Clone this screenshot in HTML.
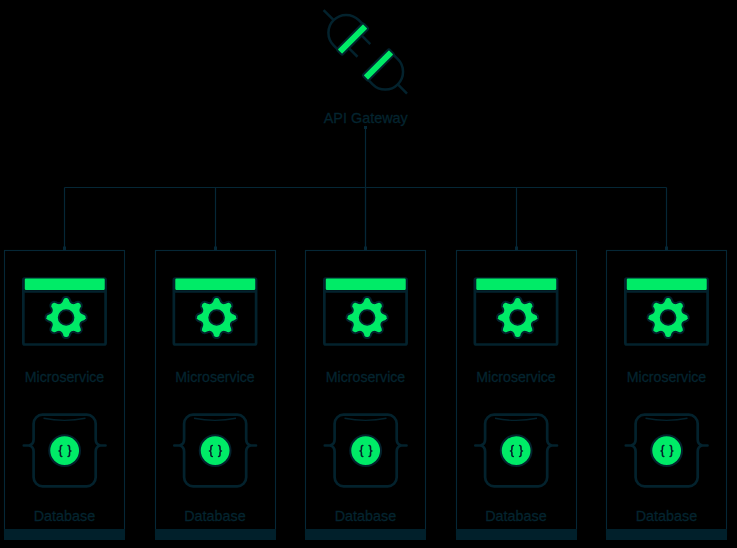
<!DOCTYPE html>
<html><head><meta charset="utf-8"><style>
html,body{margin:0;padding:0;background:#000;}
body{width:737px;height:548px;overflow:hidden;font-family:"Liberation Sans",sans-serif;}
svg{display:block}
</style></head><body>
<svg width="737" height="548" viewBox="0 0 737 548">
<rect width="737" height="548" fill="#000"/>
<line x1="64.5" y1="187.5" x2="666.5" y2="187.5" stroke="#052736" stroke-width="1.2"/>
<line x1="365.5" y1="127" x2="365.5" y2="250" stroke="#052736" stroke-width="1.2"/>
<rect x="364" y="126" width="3" height="3" fill="#052736"/>
<line x1="64.5" y1="187.5" x2="64.5" y2="250" stroke="#052736" stroke-width="1.2"/>
<rect x="63.0" y="246.5" width="3" height="4" fill="#052736"/>
<rect x="4.5" y="250.5" width="120" height="285" fill="none" stroke="#052736" stroke-width="1.1"/>
<rect x="4" y="529" width="121" height="11" fill="#01202b"/>
<rect x="23.35" y="278.5" width="82.25" height="66" rx="1.5" fill="none" stroke="#03222d" stroke-width="2.7"/>
<rect x="24.75" y="278.5" width="80" height="11.5" rx="1.2" fill="#00eb67"/>
<line x1="23.35" y1="291.5" x2="105.6" y2="291.5" stroke="#03222d" stroke-width="2.7"/>
<path d="M66.10 297.00 L66.42 297.01 L66.74 297.04 L67.06 297.09 L67.38 297.17 L67.69 297.28 L68.00 297.42 L68.30 297.60 L68.59 297.82 L68.86 298.10 L69.12 298.43 L69.36 298.82 L69.58 299.24 L69.79 299.69 L69.98 300.15 L70.16 300.59 L70.34 301.00 L70.51 301.36 L70.70 301.68 L70.88 301.95 L71.08 302.19 L71.28 302.38 L71.48 302.55 L71.70 302.69 L71.91 302.82 L72.14 302.92 L72.37 303.00 L72.61 303.07 L72.87 303.12 L73.13 303.15 L73.41 303.15 L73.71 303.12 L74.04 303.06 L74.39 302.97 L74.77 302.83 L75.19 302.67 L75.63 302.49 L76.08 302.30 L76.55 302.13 L77.01 301.98 L77.45 301.88 L77.86 301.83 L78.26 301.83 L78.62 301.87 L78.96 301.96 L79.27 302.08 L79.57 302.22 L79.85 302.39 L80.11 302.58 L80.36 302.78 L80.60 303.00 L80.82 303.24 L81.02 303.49 L81.21 303.75 L81.38 304.03 L81.52 304.33 L81.64 304.64 L81.73 304.98 L81.77 305.34 L81.77 305.74 L81.72 306.15 L81.62 306.59 L81.47 307.05 L81.30 307.52 L81.11 307.97 L80.93 308.41 L80.77 308.83 L80.63 309.21 L80.54 309.56 L80.48 309.89 L80.45 310.19 L80.45 310.47 L80.48 310.73 L80.53 310.99 L80.60 311.23 L80.68 311.46 L80.78 311.69 L80.91 311.90 L81.05 312.12 L81.22 312.32 L81.41 312.52 L81.65 312.72 L81.92 312.90 L82.24 313.09 L82.60 313.26 L83.01 313.44 L83.45 313.62 L83.91 313.81 L84.36 314.02 L84.78 314.24 L85.17 314.48 L85.50 314.74 L85.78 315.01 L86.00 315.30 L86.18 315.60 L86.32 315.91 L86.43 316.22 L86.51 316.54 L86.56 316.86 L86.59 317.18 L86.60 317.50 L86.59 317.82 L86.56 318.14 L86.51 318.46 L86.43 318.78 L86.32 319.09 L86.18 319.40 L86.00 319.70 L85.78 319.99 L85.50 320.26 L85.17 320.52 L84.78 320.76 L84.36 320.98 L83.91 321.19 L83.45 321.38 L83.01 321.56 L82.60 321.74 L82.24 321.91 L81.92 322.10 L81.65 322.28 L81.41 322.48 L81.22 322.68 L81.05 322.88 L80.91 323.10 L80.78 323.31 L80.68 323.54 L80.60 323.77 L80.53 324.01 L80.48 324.27 L80.45 324.53 L80.45 324.81 L80.48 325.11 L80.54 325.44 L80.63 325.79 L80.77 326.17 L80.93 326.59 L81.11 327.03 L81.30 327.48 L81.47 327.95 L81.62 328.41 L81.72 328.85 L81.77 329.26 L81.77 329.66 L81.73 330.02 L81.64 330.36 L81.52 330.67 L81.38 330.97 L81.21 331.25 L81.02 331.51 L80.82 331.76 L80.60 332.00 L80.36 332.22 L80.11 332.42 L79.85 332.61 L79.57 332.78 L79.27 332.92 L78.96 333.04 L78.62 333.13 L78.26 333.17 L77.86 333.17 L77.45 333.12 L77.01 333.02 L76.55 332.87 L76.08 332.70 L75.63 332.51 L75.19 332.33 L74.77 332.17 L74.39 332.03 L74.04 331.94 L73.71 331.88 L73.41 331.85 L73.13 331.85 L72.87 331.88 L72.61 331.93 L72.37 332.00 L72.14 332.08 L71.91 332.18 L71.70 332.31 L71.48 332.45 L71.28 332.62 L71.08 332.81 L70.88 333.05 L70.70 333.32 L70.51 333.64 L70.34 334.00 L70.16 334.41 L69.98 334.85 L69.79 335.31 L69.58 335.76 L69.36 336.18 L69.12 336.57 L68.86 336.90 L68.59 337.18 L68.30 337.40 L68.00 337.58 L67.69 337.72 L67.38 337.83 L67.06 337.91 L66.74 337.96 L66.42 337.99 L66.10 338.00 L65.78 337.99 L65.46 337.96 L65.14 337.91 L64.82 337.83 L64.51 337.72 L64.20 337.58 L63.90 337.40 L63.61 337.18 L63.34 336.90 L63.08 336.57 L62.84 336.18 L62.62 335.76 L62.41 335.31 L62.22 334.85 L62.04 334.41 L61.86 334.00 L61.69 333.64 L61.50 333.32 L61.32 333.05 L61.12 332.81 L60.92 332.62 L60.72 332.45 L60.50 332.31 L60.29 332.18 L60.06 332.08 L59.83 332.00 L59.59 331.93 L59.33 331.88 L59.07 331.85 L58.79 331.85 L58.49 331.88 L58.16 331.94 L57.81 332.03 L57.43 332.17 L57.01 332.33 L56.57 332.51 L56.12 332.70 L55.65 332.87 L55.19 333.02 L54.75 333.12 L54.34 333.17 L53.94 333.17 L53.58 333.13 L53.24 333.04 L52.93 332.92 L52.63 332.78 L52.35 332.61 L52.09 332.42 L51.84 332.22 L51.60 332.00 L51.38 331.76 L51.18 331.51 L50.99 331.25 L50.82 330.97 L50.68 330.67 L50.56 330.36 L50.47 330.02 L50.43 329.66 L50.43 329.26 L50.48 328.85 L50.58 328.41 L50.73 327.95 L50.90 327.48 L51.09 327.03 L51.27 326.59 L51.43 326.17 L51.57 325.79 L51.66 325.44 L51.72 325.11 L51.75 324.81 L51.75 324.53 L51.72 324.27 L51.67 324.01 L51.60 323.77 L51.52 323.54 L51.42 323.31 L51.29 323.10 L51.15 322.88 L50.98 322.68 L50.79 322.48 L50.55 322.28 L50.28 322.10 L49.96 321.91 L49.60 321.74 L49.19 321.56 L48.75 321.38 L48.29 321.19 L47.84 320.98 L47.42 320.76 L47.03 320.52 L46.70 320.26 L46.42 319.99 L46.20 319.70 L46.02 319.40 L45.88 319.09 L45.77 318.78 L45.69 318.46 L45.64 318.14 L45.61 317.82 L45.60 317.50 L45.61 317.18 L45.64 316.86 L45.69 316.54 L45.77 316.22 L45.88 315.91 L46.02 315.60 L46.20 315.30 L46.42 315.01 L46.70 314.74 L47.03 314.48 L47.42 314.24 L47.84 314.02 L48.29 313.81 L48.75 313.62 L49.19 313.44 L49.60 313.26 L49.96 313.09 L50.28 312.90 L50.55 312.72 L50.79 312.52 L50.98 312.32 L51.15 312.12 L51.29 311.90 L51.42 311.69 L51.52 311.46 L51.60 311.23 L51.67 310.99 L51.72 310.73 L51.75 310.47 L51.75 310.19 L51.72 309.89 L51.66 309.56 L51.57 309.21 L51.43 308.83 L51.27 308.41 L51.09 307.97 L50.90 307.52 L50.73 307.05 L50.58 306.59 L50.48 306.15 L50.43 305.74 L50.43 305.34 L50.47 304.98 L50.56 304.64 L50.68 304.33 L50.82 304.03 L50.99 303.75 L51.18 303.49 L51.38 303.24 L51.60 303.00 L51.84 302.78 L52.09 302.58 L52.35 302.39 L52.63 302.22 L52.93 302.08 L53.24 301.96 L53.58 301.87 L53.94 301.83 L54.34 301.83 L54.75 301.88 L55.19 301.98 L55.65 302.13 L56.12 302.30 L56.57 302.49 L57.01 302.67 L57.43 302.83 L57.81 302.97 L58.16 303.06 L58.49 303.12 L58.79 303.15 L59.07 303.15 L59.33 303.12 L59.59 303.07 L59.83 303.00 L60.06 302.92 L60.29 302.82 L60.50 302.69 L60.72 302.55 L60.92 302.38 L61.12 302.19 L61.32 301.95 L61.50 301.68 L61.69 301.36 L61.86 301.00 L62.04 300.59 L62.22 300.15 L62.41 299.69 L62.62 299.24 L62.84 298.82 L63.08 298.43 L63.34 298.10 L63.61 297.82 L63.90 297.60 L64.20 297.42 L64.51 297.28 L64.82 297.17 L65.14 297.09 L65.46 297.04 L65.78 297.01Z" fill="#00eb67" stroke="#03222d" stroke-width="2"/>
<circle cx="66.1" cy="317.5" r="7.4" fill="#000" stroke="#03222d" stroke-width="1.8"/>
<text x="64.5" y="382" text-anchor="middle" font-family="Liberation Sans" font-size="14.5" fill="#04242f" stroke="#04242f" stroke-width="0.3" textLength="79.5" lengthAdjust="spacingAndGlyphs">Microservice</text>
<path d="M42.6 414.7 L86.7 414.7 A9 9 0 0 1 95.7 423.7 L95.7 439.5 Q95.7 444.5 100.3 445.5 L105.5 445.5 L100.3 445.5 Q95.7 446.5 95.7 451.5 L95.7 477.3 A9 9 0 0 1 86.7 486.3 L42.6 486.3 A9 9 0 0 1 33.6 477.3 L33.6 451.5 Q33.6 446.5 29.0 445.5 L23.8 445.5 L29.0 445.5 Q33.6 444.5 33.6 439.5 L33.6 423.7 A9 9 0 0 1 42.6 414.7 Z" fill="none" stroke="#03222d" stroke-width="2.7" stroke-linejoin="round"/>
<path d="M43.5 418.3 Q64.5 422.5 85.5 418.3" fill="none" stroke="#03222d" stroke-width="1.4"/>
<circle cx="64.65" cy="450.6" r="15.4" fill="#00eb67" stroke="#03222d" stroke-width="2"/>
<path d="M61.8 445.5 Q60.4 445.5 60.4 447.5 L60.4 449.3 Q60.4 451 59.0 451 Q60.4 451 60.4 452.7 L60.4 454.5 Q60.4 456.5 61.8 456.5 M68.1 445.5 Q69.5 445.5 69.5 447.5 L69.5 449.3 Q69.5 451 70.9 451 Q69.5 451 69.5 452.7 L69.5 454.5 Q69.5 456.5 68.1 456.5" fill="none" stroke="#03222d" stroke-width="1.6" stroke-linecap="round" stroke-linejoin="round"/>
<text x="64.5" y="521" text-anchor="middle" font-family="Liberation Sans" font-size="14.5" fill="#04242f" stroke="#04242f" stroke-width="0.3" textLength="61.5" lengthAdjust="spacingAndGlyphs">Database</text>
<line x1="215.5" y1="187.5" x2="215.5" y2="250" stroke="#052736" stroke-width="1.2"/>
<rect x="214.0" y="246.5" width="3" height="4" fill="#052736"/>
<rect x="155.5" y="250.5" width="120" height="285" fill="none" stroke="#052736" stroke-width="1.1"/>
<rect x="155" y="529" width="121" height="11" fill="#01202b"/>
<rect x="173.85" y="278.5" width="82.25" height="66" rx="1.5" fill="none" stroke="#03222d" stroke-width="2.7"/>
<rect x="175.25" y="278.5" width="80" height="11.5" rx="1.2" fill="#00eb67"/>
<line x1="173.85" y1="291.5" x2="256.1" y2="291.5" stroke="#03222d" stroke-width="2.7"/>
<path d="M216.60 297.00 L216.92 297.01 L217.24 297.04 L217.56 297.09 L217.88 297.17 L218.19 297.28 L218.50 297.42 L218.80 297.60 L219.09 297.82 L219.36 298.10 L219.62 298.43 L219.86 298.82 L220.08 299.24 L220.29 299.69 L220.48 300.15 L220.66 300.59 L220.84 301.00 L221.01 301.36 L221.20 301.68 L221.38 301.95 L221.58 302.19 L221.78 302.38 L221.98 302.55 L222.20 302.69 L222.41 302.82 L222.64 302.92 L222.87 303.00 L223.11 303.07 L223.37 303.12 L223.63 303.15 L223.91 303.15 L224.21 303.12 L224.54 303.06 L224.89 302.97 L225.27 302.83 L225.69 302.67 L226.13 302.49 L226.58 302.30 L227.05 302.13 L227.51 301.98 L227.95 301.88 L228.36 301.83 L228.76 301.83 L229.12 301.87 L229.46 301.96 L229.77 302.08 L230.07 302.22 L230.35 302.39 L230.61 302.58 L230.86 302.78 L231.10 303.00 L231.32 303.24 L231.52 303.49 L231.71 303.75 L231.88 304.03 L232.02 304.33 L232.14 304.64 L232.23 304.98 L232.27 305.34 L232.27 305.74 L232.22 306.15 L232.12 306.59 L231.97 307.05 L231.80 307.52 L231.61 307.97 L231.43 308.41 L231.27 308.83 L231.13 309.21 L231.04 309.56 L230.98 309.89 L230.95 310.19 L230.95 310.47 L230.98 310.73 L231.03 310.99 L231.10 311.23 L231.18 311.46 L231.28 311.69 L231.41 311.90 L231.55 312.12 L231.72 312.32 L231.91 312.52 L232.15 312.72 L232.42 312.90 L232.74 313.09 L233.10 313.26 L233.51 313.44 L233.95 313.62 L234.41 313.81 L234.86 314.02 L235.28 314.24 L235.67 314.48 L236.00 314.74 L236.28 315.01 L236.50 315.30 L236.68 315.60 L236.82 315.91 L236.93 316.22 L237.01 316.54 L237.06 316.86 L237.09 317.18 L237.10 317.50 L237.09 317.82 L237.06 318.14 L237.01 318.46 L236.93 318.78 L236.82 319.09 L236.68 319.40 L236.50 319.70 L236.28 319.99 L236.00 320.26 L235.67 320.52 L235.28 320.76 L234.86 320.98 L234.41 321.19 L233.95 321.38 L233.51 321.56 L233.10 321.74 L232.74 321.91 L232.42 322.10 L232.15 322.28 L231.91 322.48 L231.72 322.68 L231.55 322.88 L231.41 323.10 L231.28 323.31 L231.18 323.54 L231.10 323.77 L231.03 324.01 L230.98 324.27 L230.95 324.53 L230.95 324.81 L230.98 325.11 L231.04 325.44 L231.13 325.79 L231.27 326.17 L231.43 326.59 L231.61 327.03 L231.80 327.48 L231.97 327.95 L232.12 328.41 L232.22 328.85 L232.27 329.26 L232.27 329.66 L232.23 330.02 L232.14 330.36 L232.02 330.67 L231.88 330.97 L231.71 331.25 L231.52 331.51 L231.32 331.76 L231.10 332.00 L230.86 332.22 L230.61 332.42 L230.35 332.61 L230.07 332.78 L229.77 332.92 L229.46 333.04 L229.12 333.13 L228.76 333.17 L228.36 333.17 L227.95 333.12 L227.51 333.02 L227.05 332.87 L226.58 332.70 L226.13 332.51 L225.69 332.33 L225.27 332.17 L224.89 332.03 L224.54 331.94 L224.21 331.88 L223.91 331.85 L223.63 331.85 L223.37 331.88 L223.11 331.93 L222.87 332.00 L222.64 332.08 L222.41 332.18 L222.20 332.31 L221.98 332.45 L221.78 332.62 L221.58 332.81 L221.38 333.05 L221.20 333.32 L221.01 333.64 L220.84 334.00 L220.66 334.41 L220.48 334.85 L220.29 335.31 L220.08 335.76 L219.86 336.18 L219.62 336.57 L219.36 336.90 L219.09 337.18 L218.80 337.40 L218.50 337.58 L218.19 337.72 L217.88 337.83 L217.56 337.91 L217.24 337.96 L216.92 337.99 L216.60 338.00 L216.28 337.99 L215.96 337.96 L215.64 337.91 L215.32 337.83 L215.01 337.72 L214.70 337.58 L214.40 337.40 L214.11 337.18 L213.84 336.90 L213.58 336.57 L213.34 336.18 L213.12 335.76 L212.91 335.31 L212.72 334.85 L212.54 334.41 L212.36 334.00 L212.19 333.64 L212.00 333.32 L211.82 333.05 L211.62 332.81 L211.42 332.62 L211.22 332.45 L211.00 332.31 L210.79 332.18 L210.56 332.08 L210.33 332.00 L210.09 331.93 L209.83 331.88 L209.57 331.85 L209.29 331.85 L208.99 331.88 L208.66 331.94 L208.31 332.03 L207.93 332.17 L207.51 332.33 L207.07 332.51 L206.62 332.70 L206.15 332.87 L205.69 333.02 L205.25 333.12 L204.84 333.17 L204.44 333.17 L204.08 333.13 L203.74 333.04 L203.43 332.92 L203.13 332.78 L202.85 332.61 L202.59 332.42 L202.34 332.22 L202.10 332.00 L201.88 331.76 L201.68 331.51 L201.49 331.25 L201.32 330.97 L201.18 330.67 L201.06 330.36 L200.97 330.02 L200.93 329.66 L200.93 329.26 L200.98 328.85 L201.08 328.41 L201.23 327.95 L201.40 327.48 L201.59 327.03 L201.77 326.59 L201.93 326.17 L202.07 325.79 L202.16 325.44 L202.22 325.11 L202.25 324.81 L202.25 324.53 L202.22 324.27 L202.17 324.01 L202.10 323.77 L202.02 323.54 L201.92 323.31 L201.79 323.10 L201.65 322.88 L201.48 322.68 L201.29 322.48 L201.05 322.28 L200.78 322.10 L200.46 321.91 L200.10 321.74 L199.69 321.56 L199.25 321.38 L198.79 321.19 L198.34 320.98 L197.92 320.76 L197.53 320.52 L197.20 320.26 L196.92 319.99 L196.70 319.70 L196.52 319.40 L196.38 319.09 L196.27 318.78 L196.19 318.46 L196.14 318.14 L196.11 317.82 L196.10 317.50 L196.11 317.18 L196.14 316.86 L196.19 316.54 L196.27 316.22 L196.38 315.91 L196.52 315.60 L196.70 315.30 L196.92 315.01 L197.20 314.74 L197.53 314.48 L197.92 314.24 L198.34 314.02 L198.79 313.81 L199.25 313.62 L199.69 313.44 L200.10 313.26 L200.46 313.09 L200.78 312.90 L201.05 312.72 L201.29 312.52 L201.48 312.32 L201.65 312.12 L201.79 311.90 L201.92 311.69 L202.02 311.46 L202.10 311.23 L202.17 310.99 L202.22 310.73 L202.25 310.47 L202.25 310.19 L202.22 309.89 L202.16 309.56 L202.07 309.21 L201.93 308.83 L201.77 308.41 L201.59 307.97 L201.40 307.52 L201.23 307.05 L201.08 306.59 L200.98 306.15 L200.93 305.74 L200.93 305.34 L200.97 304.98 L201.06 304.64 L201.18 304.33 L201.32 304.03 L201.49 303.75 L201.68 303.49 L201.88 303.24 L202.10 303.00 L202.34 302.78 L202.59 302.58 L202.85 302.39 L203.13 302.22 L203.43 302.08 L203.74 301.96 L204.08 301.87 L204.44 301.83 L204.84 301.83 L205.25 301.88 L205.69 301.98 L206.15 302.13 L206.62 302.30 L207.07 302.49 L207.51 302.67 L207.93 302.83 L208.31 302.97 L208.66 303.06 L208.99 303.12 L209.29 303.15 L209.57 303.15 L209.83 303.12 L210.09 303.07 L210.33 303.00 L210.56 302.92 L210.79 302.82 L211.00 302.69 L211.22 302.55 L211.42 302.38 L211.62 302.19 L211.82 301.95 L212.00 301.68 L212.19 301.36 L212.36 301.00 L212.54 300.59 L212.72 300.15 L212.91 299.69 L213.12 299.24 L213.34 298.82 L213.58 298.43 L213.84 298.10 L214.11 297.82 L214.40 297.60 L214.70 297.42 L215.01 297.28 L215.32 297.17 L215.64 297.09 L215.96 297.04 L216.28 297.01Z" fill="#00eb67" stroke="#03222d" stroke-width="2"/>
<circle cx="216.6" cy="317.5" r="7.4" fill="#000" stroke="#03222d" stroke-width="1.8"/>
<text x="215.0" y="382" text-anchor="middle" font-family="Liberation Sans" font-size="14.5" fill="#04242f" stroke="#04242f" stroke-width="0.3" textLength="79.5" lengthAdjust="spacingAndGlyphs">Microservice</text>
<path d="M193.1 414.7 L237.2 414.7 A9 9 0 0 1 246.2 423.7 L246.2 439.5 Q246.2 444.5 250.79999999999998 445.5 L256.0 445.5 L250.79999999999998 445.5 Q246.2 446.5 246.2 451.5 L246.2 477.3 A9 9 0 0 1 237.2 486.3 L193.1 486.3 A9 9 0 0 1 184.1 477.3 L184.1 451.5 Q184.1 446.5 179.5 445.5 L174.29999999999998 445.5 L179.5 445.5 Q184.1 444.5 184.1 439.5 L184.1 423.7 A9 9 0 0 1 193.1 414.7 Z" fill="none" stroke="#03222d" stroke-width="2.7" stroke-linejoin="round"/>
<path d="M194.0 418.3 Q215.0 422.5 236.0 418.3" fill="none" stroke="#03222d" stroke-width="1.4"/>
<circle cx="215.15" cy="450.6" r="15.4" fill="#00eb67" stroke="#03222d" stroke-width="2"/>
<path d="M212.3 445.5 Q210.9 445.5 210.9 447.5 L210.9 449.3 Q210.9 451 209.5 451 Q210.9 451 210.9 452.7 L210.9 454.5 Q210.9 456.5 212.3 456.5 M218.6 445.5 Q220.0 445.5 220.0 447.5 L220.0 449.3 Q220.0 451 221.4 451 Q220.0 451 220.0 452.7 L220.0 454.5 Q220.0 456.5 218.6 456.5" fill="none" stroke="#03222d" stroke-width="1.6" stroke-linecap="round" stroke-linejoin="round"/>
<text x="215.0" y="521" text-anchor="middle" font-family="Liberation Sans" font-size="14.5" fill="#04242f" stroke="#04242f" stroke-width="0.3" textLength="61.5" lengthAdjust="spacingAndGlyphs">Database</text>
<line x1="365.5" y1="187.5" x2="365.5" y2="250" stroke="#052736" stroke-width="1.2"/>
<rect x="364.0" y="246.5" width="3" height="4" fill="#052736"/>
<rect x="305.5" y="250.5" width="120" height="285" fill="none" stroke="#052736" stroke-width="1.1"/>
<rect x="305" y="529" width="121" height="11" fill="#01202b"/>
<rect x="324.35" y="278.5" width="82.25" height="66" rx="1.5" fill="none" stroke="#03222d" stroke-width="2.7"/>
<rect x="325.75" y="278.5" width="80" height="11.5" rx="1.2" fill="#00eb67"/>
<line x1="324.35" y1="291.5" x2="406.6" y2="291.5" stroke="#03222d" stroke-width="2.7"/>
<path d="M367.10 297.00 L367.42 297.01 L367.74 297.04 L368.06 297.09 L368.38 297.17 L368.69 297.28 L369.00 297.42 L369.30 297.60 L369.59 297.82 L369.86 298.10 L370.12 298.43 L370.36 298.82 L370.58 299.24 L370.79 299.69 L370.98 300.15 L371.16 300.59 L371.34 301.00 L371.51 301.36 L371.70 301.68 L371.88 301.95 L372.08 302.19 L372.28 302.38 L372.48 302.55 L372.70 302.69 L372.91 302.82 L373.14 302.92 L373.37 303.00 L373.61 303.07 L373.87 303.12 L374.13 303.15 L374.41 303.15 L374.71 303.12 L375.04 303.06 L375.39 302.97 L375.77 302.83 L376.19 302.67 L376.63 302.49 L377.08 302.30 L377.55 302.13 L378.01 301.98 L378.45 301.88 L378.86 301.83 L379.26 301.83 L379.62 301.87 L379.96 301.96 L380.27 302.08 L380.57 302.22 L380.85 302.39 L381.11 302.58 L381.36 302.78 L381.60 303.00 L381.82 303.24 L382.02 303.49 L382.21 303.75 L382.38 304.03 L382.52 304.33 L382.64 304.64 L382.73 304.98 L382.77 305.34 L382.77 305.74 L382.72 306.15 L382.62 306.59 L382.47 307.05 L382.30 307.52 L382.11 307.97 L381.93 308.41 L381.77 308.83 L381.63 309.21 L381.54 309.56 L381.48 309.89 L381.45 310.19 L381.45 310.47 L381.48 310.73 L381.53 310.99 L381.60 311.23 L381.68 311.46 L381.78 311.69 L381.91 311.90 L382.05 312.12 L382.22 312.32 L382.41 312.52 L382.65 312.72 L382.92 312.90 L383.24 313.09 L383.60 313.26 L384.01 313.44 L384.45 313.62 L384.91 313.81 L385.36 314.02 L385.78 314.24 L386.17 314.48 L386.50 314.74 L386.78 315.01 L387.00 315.30 L387.18 315.60 L387.32 315.91 L387.43 316.22 L387.51 316.54 L387.56 316.86 L387.59 317.18 L387.60 317.50 L387.59 317.82 L387.56 318.14 L387.51 318.46 L387.43 318.78 L387.32 319.09 L387.18 319.40 L387.00 319.70 L386.78 319.99 L386.50 320.26 L386.17 320.52 L385.78 320.76 L385.36 320.98 L384.91 321.19 L384.45 321.38 L384.01 321.56 L383.60 321.74 L383.24 321.91 L382.92 322.10 L382.65 322.28 L382.41 322.48 L382.22 322.68 L382.05 322.88 L381.91 323.10 L381.78 323.31 L381.68 323.54 L381.60 323.77 L381.53 324.01 L381.48 324.27 L381.45 324.53 L381.45 324.81 L381.48 325.11 L381.54 325.44 L381.63 325.79 L381.77 326.17 L381.93 326.59 L382.11 327.03 L382.30 327.48 L382.47 327.95 L382.62 328.41 L382.72 328.85 L382.77 329.26 L382.77 329.66 L382.73 330.02 L382.64 330.36 L382.52 330.67 L382.38 330.97 L382.21 331.25 L382.02 331.51 L381.82 331.76 L381.60 332.00 L381.36 332.22 L381.11 332.42 L380.85 332.61 L380.57 332.78 L380.27 332.92 L379.96 333.04 L379.62 333.13 L379.26 333.17 L378.86 333.17 L378.45 333.12 L378.01 333.02 L377.55 332.87 L377.08 332.70 L376.63 332.51 L376.19 332.33 L375.77 332.17 L375.39 332.03 L375.04 331.94 L374.71 331.88 L374.41 331.85 L374.13 331.85 L373.87 331.88 L373.61 331.93 L373.37 332.00 L373.14 332.08 L372.91 332.18 L372.70 332.31 L372.48 332.45 L372.28 332.62 L372.08 332.81 L371.88 333.05 L371.70 333.32 L371.51 333.64 L371.34 334.00 L371.16 334.41 L370.98 334.85 L370.79 335.31 L370.58 335.76 L370.36 336.18 L370.12 336.57 L369.86 336.90 L369.59 337.18 L369.30 337.40 L369.00 337.58 L368.69 337.72 L368.38 337.83 L368.06 337.91 L367.74 337.96 L367.42 337.99 L367.10 338.00 L366.78 337.99 L366.46 337.96 L366.14 337.91 L365.82 337.83 L365.51 337.72 L365.20 337.58 L364.90 337.40 L364.61 337.18 L364.34 336.90 L364.08 336.57 L363.84 336.18 L363.62 335.76 L363.41 335.31 L363.22 334.85 L363.04 334.41 L362.86 334.00 L362.69 333.64 L362.50 333.32 L362.32 333.05 L362.12 332.81 L361.92 332.62 L361.72 332.45 L361.50 332.31 L361.29 332.18 L361.06 332.08 L360.83 332.00 L360.59 331.93 L360.33 331.88 L360.07 331.85 L359.79 331.85 L359.49 331.88 L359.16 331.94 L358.81 332.03 L358.43 332.17 L358.01 332.33 L357.57 332.51 L357.12 332.70 L356.65 332.87 L356.19 333.02 L355.75 333.12 L355.34 333.17 L354.94 333.17 L354.58 333.13 L354.24 333.04 L353.93 332.92 L353.63 332.78 L353.35 332.61 L353.09 332.42 L352.84 332.22 L352.60 332.00 L352.38 331.76 L352.18 331.51 L351.99 331.25 L351.82 330.97 L351.68 330.67 L351.56 330.36 L351.47 330.02 L351.43 329.66 L351.43 329.26 L351.48 328.85 L351.58 328.41 L351.73 327.95 L351.90 327.48 L352.09 327.03 L352.27 326.59 L352.43 326.17 L352.57 325.79 L352.66 325.44 L352.72 325.11 L352.75 324.81 L352.75 324.53 L352.72 324.27 L352.67 324.01 L352.60 323.77 L352.52 323.54 L352.42 323.31 L352.29 323.10 L352.15 322.88 L351.98 322.68 L351.79 322.48 L351.55 322.28 L351.28 322.10 L350.96 321.91 L350.60 321.74 L350.19 321.56 L349.75 321.38 L349.29 321.19 L348.84 320.98 L348.42 320.76 L348.03 320.52 L347.70 320.26 L347.42 319.99 L347.20 319.70 L347.02 319.40 L346.88 319.09 L346.77 318.78 L346.69 318.46 L346.64 318.14 L346.61 317.82 L346.60 317.50 L346.61 317.18 L346.64 316.86 L346.69 316.54 L346.77 316.22 L346.88 315.91 L347.02 315.60 L347.20 315.30 L347.42 315.01 L347.70 314.74 L348.03 314.48 L348.42 314.24 L348.84 314.02 L349.29 313.81 L349.75 313.62 L350.19 313.44 L350.60 313.26 L350.96 313.09 L351.28 312.90 L351.55 312.72 L351.79 312.52 L351.98 312.32 L352.15 312.12 L352.29 311.90 L352.42 311.69 L352.52 311.46 L352.60 311.23 L352.67 310.99 L352.72 310.73 L352.75 310.47 L352.75 310.19 L352.72 309.89 L352.66 309.56 L352.57 309.21 L352.43 308.83 L352.27 308.41 L352.09 307.97 L351.90 307.52 L351.73 307.05 L351.58 306.59 L351.48 306.15 L351.43 305.74 L351.43 305.34 L351.47 304.98 L351.56 304.64 L351.68 304.33 L351.82 304.03 L351.99 303.75 L352.18 303.49 L352.38 303.24 L352.60 303.00 L352.84 302.78 L353.09 302.58 L353.35 302.39 L353.63 302.22 L353.93 302.08 L354.24 301.96 L354.58 301.87 L354.94 301.83 L355.34 301.83 L355.75 301.88 L356.19 301.98 L356.65 302.13 L357.12 302.30 L357.57 302.49 L358.01 302.67 L358.43 302.83 L358.81 302.97 L359.16 303.06 L359.49 303.12 L359.79 303.15 L360.07 303.15 L360.33 303.12 L360.59 303.07 L360.83 303.00 L361.06 302.92 L361.29 302.82 L361.50 302.69 L361.72 302.55 L361.92 302.38 L362.12 302.19 L362.32 301.95 L362.50 301.68 L362.69 301.36 L362.86 301.00 L363.04 300.59 L363.22 300.15 L363.41 299.69 L363.62 299.24 L363.84 298.82 L364.08 298.43 L364.34 298.10 L364.61 297.82 L364.90 297.60 L365.20 297.42 L365.51 297.28 L365.82 297.17 L366.14 297.09 L366.46 297.04 L366.78 297.01Z" fill="#00eb67" stroke="#03222d" stroke-width="2"/>
<circle cx="367.1" cy="317.5" r="7.4" fill="#000" stroke="#03222d" stroke-width="1.8"/>
<text x="365.5" y="382" text-anchor="middle" font-family="Liberation Sans" font-size="14.5" fill="#04242f" stroke="#04242f" stroke-width="0.3" textLength="79.5" lengthAdjust="spacingAndGlyphs">Microservice</text>
<path d="M343.6 414.7 L387.7 414.7 A9 9 0 0 1 396.7 423.7 L396.7 439.5 Q396.7 444.5 401.3 445.5 L406.5 445.5 L401.3 445.5 Q396.7 446.5 396.7 451.5 L396.7 477.3 A9 9 0 0 1 387.7 486.3 L343.6 486.3 A9 9 0 0 1 334.6 477.3 L334.6 451.5 Q334.6 446.5 330.0 445.5 L324.8 445.5 L330.0 445.5 Q334.6 444.5 334.6 439.5 L334.6 423.7 A9 9 0 0 1 343.6 414.7 Z" fill="none" stroke="#03222d" stroke-width="2.7" stroke-linejoin="round"/>
<path d="M344.5 418.3 Q365.5 422.5 386.5 418.3" fill="none" stroke="#03222d" stroke-width="1.4"/>
<circle cx="365.65" cy="450.6" r="15.4" fill="#00eb67" stroke="#03222d" stroke-width="2"/>
<path d="M362.8 445.5 Q361.4 445.5 361.4 447.5 L361.4 449.3 Q361.4 451 360.0 451 Q361.4 451 361.4 452.7 L361.4 454.5 Q361.4 456.5 362.8 456.5 M369.1 445.5 Q370.5 445.5 370.5 447.5 L370.5 449.3 Q370.5 451 371.9 451 Q370.5 451 370.5 452.7 L370.5 454.5 Q370.5 456.5 369.1 456.5" fill="none" stroke="#03222d" stroke-width="1.6" stroke-linecap="round" stroke-linejoin="round"/>
<text x="365.5" y="521" text-anchor="middle" font-family="Liberation Sans" font-size="14.5" fill="#04242f" stroke="#04242f" stroke-width="0.3" textLength="61.5" lengthAdjust="spacingAndGlyphs">Database</text>
<line x1="516.5" y1="187.5" x2="516.5" y2="250" stroke="#052736" stroke-width="1.2"/>
<rect x="515.0" y="246.5" width="3" height="4" fill="#052736"/>
<rect x="456.5" y="250.5" width="120" height="285" fill="none" stroke="#052736" stroke-width="1.1"/>
<rect x="456" y="529" width="121" height="11" fill="#01202b"/>
<rect x="474.85" y="278.5" width="82.25" height="66" rx="1.5" fill="none" stroke="#03222d" stroke-width="2.7"/>
<rect x="476.25" y="278.5" width="80" height="11.5" rx="1.2" fill="#00eb67"/>
<line x1="474.85" y1="291.5" x2="557.1" y2="291.5" stroke="#03222d" stroke-width="2.7"/>
<path d="M517.60 297.00 L517.92 297.01 L518.24 297.04 L518.56 297.09 L518.88 297.17 L519.19 297.28 L519.50 297.42 L519.80 297.60 L520.09 297.82 L520.36 298.10 L520.62 298.43 L520.86 298.82 L521.08 299.24 L521.29 299.69 L521.48 300.15 L521.66 300.59 L521.84 301.00 L522.01 301.36 L522.20 301.68 L522.38 301.95 L522.58 302.19 L522.78 302.38 L522.98 302.55 L523.20 302.69 L523.41 302.82 L523.64 302.92 L523.87 303.00 L524.11 303.07 L524.37 303.12 L524.63 303.15 L524.91 303.15 L525.21 303.12 L525.54 303.06 L525.89 302.97 L526.27 302.83 L526.69 302.67 L527.13 302.49 L527.58 302.30 L528.05 302.13 L528.51 301.98 L528.95 301.88 L529.36 301.83 L529.76 301.83 L530.12 301.87 L530.46 301.96 L530.77 302.08 L531.07 302.22 L531.35 302.39 L531.61 302.58 L531.86 302.78 L532.10 303.00 L532.32 303.24 L532.52 303.49 L532.71 303.75 L532.88 304.03 L533.02 304.33 L533.14 304.64 L533.23 304.98 L533.27 305.34 L533.27 305.74 L533.22 306.15 L533.12 306.59 L532.97 307.05 L532.80 307.52 L532.61 307.97 L532.43 308.41 L532.27 308.83 L532.13 309.21 L532.04 309.56 L531.98 309.89 L531.95 310.19 L531.95 310.47 L531.98 310.73 L532.03 310.99 L532.10 311.23 L532.18 311.46 L532.28 311.69 L532.41 311.90 L532.55 312.12 L532.72 312.32 L532.91 312.52 L533.15 312.72 L533.42 312.90 L533.74 313.09 L534.10 313.26 L534.51 313.44 L534.95 313.62 L535.41 313.81 L535.86 314.02 L536.28 314.24 L536.67 314.48 L537.00 314.74 L537.28 315.01 L537.50 315.30 L537.68 315.60 L537.82 315.91 L537.93 316.22 L538.01 316.54 L538.06 316.86 L538.09 317.18 L538.10 317.50 L538.09 317.82 L538.06 318.14 L538.01 318.46 L537.93 318.78 L537.82 319.09 L537.68 319.40 L537.50 319.70 L537.28 319.99 L537.00 320.26 L536.67 320.52 L536.28 320.76 L535.86 320.98 L535.41 321.19 L534.95 321.38 L534.51 321.56 L534.10 321.74 L533.74 321.91 L533.42 322.10 L533.15 322.28 L532.91 322.48 L532.72 322.68 L532.55 322.88 L532.41 323.10 L532.28 323.31 L532.18 323.54 L532.10 323.77 L532.03 324.01 L531.98 324.27 L531.95 324.53 L531.95 324.81 L531.98 325.11 L532.04 325.44 L532.13 325.79 L532.27 326.17 L532.43 326.59 L532.61 327.03 L532.80 327.48 L532.97 327.95 L533.12 328.41 L533.22 328.85 L533.27 329.26 L533.27 329.66 L533.23 330.02 L533.14 330.36 L533.02 330.67 L532.88 330.97 L532.71 331.25 L532.52 331.51 L532.32 331.76 L532.10 332.00 L531.86 332.22 L531.61 332.42 L531.35 332.61 L531.07 332.78 L530.77 332.92 L530.46 333.04 L530.12 333.13 L529.76 333.17 L529.36 333.17 L528.95 333.12 L528.51 333.02 L528.05 332.87 L527.58 332.70 L527.13 332.51 L526.69 332.33 L526.27 332.17 L525.89 332.03 L525.54 331.94 L525.21 331.88 L524.91 331.85 L524.63 331.85 L524.37 331.88 L524.11 331.93 L523.87 332.00 L523.64 332.08 L523.41 332.18 L523.20 332.31 L522.98 332.45 L522.78 332.62 L522.58 332.81 L522.38 333.05 L522.20 333.32 L522.01 333.64 L521.84 334.00 L521.66 334.41 L521.48 334.85 L521.29 335.31 L521.08 335.76 L520.86 336.18 L520.62 336.57 L520.36 336.90 L520.09 337.18 L519.80 337.40 L519.50 337.58 L519.19 337.72 L518.88 337.83 L518.56 337.91 L518.24 337.96 L517.92 337.99 L517.60 338.00 L517.28 337.99 L516.96 337.96 L516.64 337.91 L516.32 337.83 L516.01 337.72 L515.70 337.58 L515.40 337.40 L515.11 337.18 L514.84 336.90 L514.58 336.57 L514.34 336.18 L514.12 335.76 L513.91 335.31 L513.72 334.85 L513.54 334.41 L513.36 334.00 L513.19 333.64 L513.00 333.32 L512.82 333.05 L512.62 332.81 L512.42 332.62 L512.22 332.45 L512.00 332.31 L511.79 332.18 L511.56 332.08 L511.33 332.00 L511.09 331.93 L510.83 331.88 L510.57 331.85 L510.29 331.85 L509.99 331.88 L509.66 331.94 L509.31 332.03 L508.93 332.17 L508.51 332.33 L508.07 332.51 L507.62 332.70 L507.15 332.87 L506.69 333.02 L506.25 333.12 L505.84 333.17 L505.44 333.17 L505.08 333.13 L504.74 333.04 L504.43 332.92 L504.13 332.78 L503.85 332.61 L503.59 332.42 L503.34 332.22 L503.10 332.00 L502.88 331.76 L502.68 331.51 L502.49 331.25 L502.32 330.97 L502.18 330.67 L502.06 330.36 L501.97 330.02 L501.93 329.66 L501.93 329.26 L501.98 328.85 L502.08 328.41 L502.23 327.95 L502.40 327.48 L502.59 327.03 L502.77 326.59 L502.93 326.17 L503.07 325.79 L503.16 325.44 L503.22 325.11 L503.25 324.81 L503.25 324.53 L503.22 324.27 L503.17 324.01 L503.10 323.77 L503.02 323.54 L502.92 323.31 L502.79 323.10 L502.65 322.88 L502.48 322.68 L502.29 322.48 L502.05 322.28 L501.78 322.10 L501.46 321.91 L501.10 321.74 L500.69 321.56 L500.25 321.38 L499.79 321.19 L499.34 320.98 L498.92 320.76 L498.53 320.52 L498.20 320.26 L497.92 319.99 L497.70 319.70 L497.52 319.40 L497.38 319.09 L497.27 318.78 L497.19 318.46 L497.14 318.14 L497.11 317.82 L497.10 317.50 L497.11 317.18 L497.14 316.86 L497.19 316.54 L497.27 316.22 L497.38 315.91 L497.52 315.60 L497.70 315.30 L497.92 315.01 L498.20 314.74 L498.53 314.48 L498.92 314.24 L499.34 314.02 L499.79 313.81 L500.25 313.62 L500.69 313.44 L501.10 313.26 L501.46 313.09 L501.78 312.90 L502.05 312.72 L502.29 312.52 L502.48 312.32 L502.65 312.12 L502.79 311.90 L502.92 311.69 L503.02 311.46 L503.10 311.23 L503.17 310.99 L503.22 310.73 L503.25 310.47 L503.25 310.19 L503.22 309.89 L503.16 309.56 L503.07 309.21 L502.93 308.83 L502.77 308.41 L502.59 307.97 L502.40 307.52 L502.23 307.05 L502.08 306.59 L501.98 306.15 L501.93 305.74 L501.93 305.34 L501.97 304.98 L502.06 304.64 L502.18 304.33 L502.32 304.03 L502.49 303.75 L502.68 303.49 L502.88 303.24 L503.10 303.00 L503.34 302.78 L503.59 302.58 L503.85 302.39 L504.13 302.22 L504.43 302.08 L504.74 301.96 L505.08 301.87 L505.44 301.83 L505.84 301.83 L506.25 301.88 L506.69 301.98 L507.15 302.13 L507.62 302.30 L508.07 302.49 L508.51 302.67 L508.93 302.83 L509.31 302.97 L509.66 303.06 L509.99 303.12 L510.29 303.15 L510.57 303.15 L510.83 303.12 L511.09 303.07 L511.33 303.00 L511.56 302.92 L511.79 302.82 L512.00 302.69 L512.22 302.55 L512.42 302.38 L512.62 302.19 L512.82 301.95 L513.00 301.68 L513.19 301.36 L513.36 301.00 L513.54 300.59 L513.72 300.15 L513.91 299.69 L514.12 299.24 L514.34 298.82 L514.58 298.43 L514.84 298.10 L515.11 297.82 L515.40 297.60 L515.70 297.42 L516.01 297.28 L516.32 297.17 L516.64 297.09 L516.96 297.04 L517.28 297.01Z" fill="#00eb67" stroke="#03222d" stroke-width="2"/>
<circle cx="517.6" cy="317.5" r="7.4" fill="#000" stroke="#03222d" stroke-width="1.8"/>
<text x="516.0" y="382" text-anchor="middle" font-family="Liberation Sans" font-size="14.5" fill="#04242f" stroke="#04242f" stroke-width="0.3" textLength="79.5" lengthAdjust="spacingAndGlyphs">Microservice</text>
<path d="M494.1 414.7 L538.2 414.7 A9 9 0 0 1 547.2 423.7 L547.2 439.5 Q547.2 444.5 551.8000000000001 445.5 L557.0 445.5 L551.8000000000001 445.5 Q547.2 446.5 547.2 451.5 L547.2 477.3 A9 9 0 0 1 538.2 486.3 L494.1 486.3 A9 9 0 0 1 485.1 477.3 L485.1 451.5 Q485.1 446.5 480.5 445.5 L475.3 445.5 L480.5 445.5 Q485.1 444.5 485.1 439.5 L485.1 423.7 A9 9 0 0 1 494.1 414.7 Z" fill="none" stroke="#03222d" stroke-width="2.7" stroke-linejoin="round"/>
<path d="M495.0 418.3 Q516.0 422.5 537.0 418.3" fill="none" stroke="#03222d" stroke-width="1.4"/>
<circle cx="516.15" cy="450.6" r="15.4" fill="#00eb67" stroke="#03222d" stroke-width="2"/>
<path d="M513.3 445.5 Q511.9 445.5 511.9 447.5 L511.9 449.3 Q511.9 451 510.5 451 Q511.9 451 511.9 452.7 L511.9 454.5 Q511.9 456.5 513.3 456.5 M519.6 445.5 Q521.0 445.5 521.0 447.5 L521.0 449.3 Q521.0 451 522.4 451 Q521.0 451 521.0 452.7 L521.0 454.5 Q521.0 456.5 519.6 456.5" fill="none" stroke="#03222d" stroke-width="1.6" stroke-linecap="round" stroke-linejoin="round"/>
<text x="516.0" y="521" text-anchor="middle" font-family="Liberation Sans" font-size="14.5" fill="#04242f" stroke="#04242f" stroke-width="0.3" textLength="61.5" lengthAdjust="spacingAndGlyphs">Database</text>
<line x1="666.5" y1="187.5" x2="666.5" y2="250" stroke="#052736" stroke-width="1.2"/>
<rect x="665.0" y="246.5" width="3" height="4" fill="#052736"/>
<rect x="606.5" y="250.5" width="120" height="285" fill="none" stroke="#052736" stroke-width="1.1"/>
<rect x="606" y="529" width="121" height="11" fill="#01202b"/>
<rect x="625.35" y="278.5" width="82.25" height="66" rx="1.5" fill="none" stroke="#03222d" stroke-width="2.7"/>
<rect x="626.75" y="278.5" width="80" height="11.5" rx="1.2" fill="#00eb67"/>
<line x1="625.35" y1="291.5" x2="707.6" y2="291.5" stroke="#03222d" stroke-width="2.7"/>
<path d="M668.10 297.00 L668.42 297.01 L668.74 297.04 L669.06 297.09 L669.38 297.17 L669.69 297.28 L670.00 297.42 L670.30 297.60 L670.59 297.82 L670.86 298.10 L671.12 298.43 L671.36 298.82 L671.58 299.24 L671.79 299.69 L671.98 300.15 L672.16 300.59 L672.34 301.00 L672.51 301.36 L672.70 301.68 L672.88 301.95 L673.08 302.19 L673.28 302.38 L673.48 302.55 L673.70 302.69 L673.91 302.82 L674.14 302.92 L674.37 303.00 L674.61 303.07 L674.87 303.12 L675.13 303.15 L675.41 303.15 L675.71 303.12 L676.04 303.06 L676.39 302.97 L676.77 302.83 L677.19 302.67 L677.63 302.49 L678.08 302.30 L678.55 302.13 L679.01 301.98 L679.45 301.88 L679.86 301.83 L680.26 301.83 L680.62 301.87 L680.96 301.96 L681.27 302.08 L681.57 302.22 L681.85 302.39 L682.11 302.58 L682.36 302.78 L682.60 303.00 L682.82 303.24 L683.02 303.49 L683.21 303.75 L683.38 304.03 L683.52 304.33 L683.64 304.64 L683.73 304.98 L683.77 305.34 L683.77 305.74 L683.72 306.15 L683.62 306.59 L683.47 307.05 L683.30 307.52 L683.11 307.97 L682.93 308.41 L682.77 308.83 L682.63 309.21 L682.54 309.56 L682.48 309.89 L682.45 310.19 L682.45 310.47 L682.48 310.73 L682.53 310.99 L682.60 311.23 L682.68 311.46 L682.78 311.69 L682.91 311.90 L683.05 312.12 L683.22 312.32 L683.41 312.52 L683.65 312.72 L683.92 312.90 L684.24 313.09 L684.60 313.26 L685.01 313.44 L685.45 313.62 L685.91 313.81 L686.36 314.02 L686.78 314.24 L687.17 314.48 L687.50 314.74 L687.78 315.01 L688.00 315.30 L688.18 315.60 L688.32 315.91 L688.43 316.22 L688.51 316.54 L688.56 316.86 L688.59 317.18 L688.60 317.50 L688.59 317.82 L688.56 318.14 L688.51 318.46 L688.43 318.78 L688.32 319.09 L688.18 319.40 L688.00 319.70 L687.78 319.99 L687.50 320.26 L687.17 320.52 L686.78 320.76 L686.36 320.98 L685.91 321.19 L685.45 321.38 L685.01 321.56 L684.60 321.74 L684.24 321.91 L683.92 322.10 L683.65 322.28 L683.41 322.48 L683.22 322.68 L683.05 322.88 L682.91 323.10 L682.78 323.31 L682.68 323.54 L682.60 323.77 L682.53 324.01 L682.48 324.27 L682.45 324.53 L682.45 324.81 L682.48 325.11 L682.54 325.44 L682.63 325.79 L682.77 326.17 L682.93 326.59 L683.11 327.03 L683.30 327.48 L683.47 327.95 L683.62 328.41 L683.72 328.85 L683.77 329.26 L683.77 329.66 L683.73 330.02 L683.64 330.36 L683.52 330.67 L683.38 330.97 L683.21 331.25 L683.02 331.51 L682.82 331.76 L682.60 332.00 L682.36 332.22 L682.11 332.42 L681.85 332.61 L681.57 332.78 L681.27 332.92 L680.96 333.04 L680.62 333.13 L680.26 333.17 L679.86 333.17 L679.45 333.12 L679.01 333.02 L678.55 332.87 L678.08 332.70 L677.63 332.51 L677.19 332.33 L676.77 332.17 L676.39 332.03 L676.04 331.94 L675.71 331.88 L675.41 331.85 L675.13 331.85 L674.87 331.88 L674.61 331.93 L674.37 332.00 L674.14 332.08 L673.91 332.18 L673.70 332.31 L673.48 332.45 L673.28 332.62 L673.08 332.81 L672.88 333.05 L672.70 333.32 L672.51 333.64 L672.34 334.00 L672.16 334.41 L671.98 334.85 L671.79 335.31 L671.58 335.76 L671.36 336.18 L671.12 336.57 L670.86 336.90 L670.59 337.18 L670.30 337.40 L670.00 337.58 L669.69 337.72 L669.38 337.83 L669.06 337.91 L668.74 337.96 L668.42 337.99 L668.10 338.00 L667.78 337.99 L667.46 337.96 L667.14 337.91 L666.82 337.83 L666.51 337.72 L666.20 337.58 L665.90 337.40 L665.61 337.18 L665.34 336.90 L665.08 336.57 L664.84 336.18 L664.62 335.76 L664.41 335.31 L664.22 334.85 L664.04 334.41 L663.86 334.00 L663.69 333.64 L663.50 333.32 L663.32 333.05 L663.12 332.81 L662.92 332.62 L662.72 332.45 L662.50 332.31 L662.29 332.18 L662.06 332.08 L661.83 332.00 L661.59 331.93 L661.33 331.88 L661.07 331.85 L660.79 331.85 L660.49 331.88 L660.16 331.94 L659.81 332.03 L659.43 332.17 L659.01 332.33 L658.57 332.51 L658.12 332.70 L657.65 332.87 L657.19 333.02 L656.75 333.12 L656.34 333.17 L655.94 333.17 L655.58 333.13 L655.24 333.04 L654.93 332.92 L654.63 332.78 L654.35 332.61 L654.09 332.42 L653.84 332.22 L653.60 332.00 L653.38 331.76 L653.18 331.51 L652.99 331.25 L652.82 330.97 L652.68 330.67 L652.56 330.36 L652.47 330.02 L652.43 329.66 L652.43 329.26 L652.48 328.85 L652.58 328.41 L652.73 327.95 L652.90 327.48 L653.09 327.03 L653.27 326.59 L653.43 326.17 L653.57 325.79 L653.66 325.44 L653.72 325.11 L653.75 324.81 L653.75 324.53 L653.72 324.27 L653.67 324.01 L653.60 323.77 L653.52 323.54 L653.42 323.31 L653.29 323.10 L653.15 322.88 L652.98 322.68 L652.79 322.48 L652.55 322.28 L652.28 322.10 L651.96 321.91 L651.60 321.74 L651.19 321.56 L650.75 321.38 L650.29 321.19 L649.84 320.98 L649.42 320.76 L649.03 320.52 L648.70 320.26 L648.42 319.99 L648.20 319.70 L648.02 319.40 L647.88 319.09 L647.77 318.78 L647.69 318.46 L647.64 318.14 L647.61 317.82 L647.60 317.50 L647.61 317.18 L647.64 316.86 L647.69 316.54 L647.77 316.22 L647.88 315.91 L648.02 315.60 L648.20 315.30 L648.42 315.01 L648.70 314.74 L649.03 314.48 L649.42 314.24 L649.84 314.02 L650.29 313.81 L650.75 313.62 L651.19 313.44 L651.60 313.26 L651.96 313.09 L652.28 312.90 L652.55 312.72 L652.79 312.52 L652.98 312.32 L653.15 312.12 L653.29 311.90 L653.42 311.69 L653.52 311.46 L653.60 311.23 L653.67 310.99 L653.72 310.73 L653.75 310.47 L653.75 310.19 L653.72 309.89 L653.66 309.56 L653.57 309.21 L653.43 308.83 L653.27 308.41 L653.09 307.97 L652.90 307.52 L652.73 307.05 L652.58 306.59 L652.48 306.15 L652.43 305.74 L652.43 305.34 L652.47 304.98 L652.56 304.64 L652.68 304.33 L652.82 304.03 L652.99 303.75 L653.18 303.49 L653.38 303.24 L653.60 303.00 L653.84 302.78 L654.09 302.58 L654.35 302.39 L654.63 302.22 L654.93 302.08 L655.24 301.96 L655.58 301.87 L655.94 301.83 L656.34 301.83 L656.75 301.88 L657.19 301.98 L657.65 302.13 L658.12 302.30 L658.57 302.49 L659.01 302.67 L659.43 302.83 L659.81 302.97 L660.16 303.06 L660.49 303.12 L660.79 303.15 L661.07 303.15 L661.33 303.12 L661.59 303.07 L661.83 303.00 L662.06 302.92 L662.29 302.82 L662.50 302.69 L662.72 302.55 L662.92 302.38 L663.12 302.19 L663.32 301.95 L663.50 301.68 L663.69 301.36 L663.86 301.00 L664.04 300.59 L664.22 300.15 L664.41 299.69 L664.62 299.24 L664.84 298.82 L665.08 298.43 L665.34 298.10 L665.61 297.82 L665.90 297.60 L666.20 297.42 L666.51 297.28 L666.82 297.17 L667.14 297.09 L667.46 297.04 L667.78 297.01Z" fill="#00eb67" stroke="#03222d" stroke-width="2"/>
<circle cx="668.1" cy="317.5" r="7.4" fill="#000" stroke="#03222d" stroke-width="1.8"/>
<text x="666.5" y="382" text-anchor="middle" font-family="Liberation Sans" font-size="14.5" fill="#04242f" stroke="#04242f" stroke-width="0.3" textLength="79.5" lengthAdjust="spacingAndGlyphs">Microservice</text>
<path d="M644.6 414.7 L688.7 414.7 A9 9 0 0 1 697.7 423.7 L697.7 439.5 Q697.7 444.5 702.3000000000001 445.5 L707.5 445.5 L702.3000000000001 445.5 Q697.7 446.5 697.7 451.5 L697.7 477.3 A9 9 0 0 1 688.7 486.3 L644.6 486.3 A9 9 0 0 1 635.6 477.3 L635.6 451.5 Q635.6 446.5 631.0 445.5 L625.8000000000001 445.5 L631.0 445.5 Q635.6 444.5 635.6 439.5 L635.6 423.7 A9 9 0 0 1 644.6 414.7 Z" fill="none" stroke="#03222d" stroke-width="2.7" stroke-linejoin="round"/>
<path d="M645.5 418.3 Q666.5 422.5 687.5 418.3" fill="none" stroke="#03222d" stroke-width="1.4"/>
<circle cx="666.65" cy="450.6" r="15.4" fill="#00eb67" stroke="#03222d" stroke-width="2"/>
<path d="M663.8 445.5 Q662.4 445.5 662.4 447.5 L662.4 449.3 Q662.4 451 661.0 451 Q662.4 451 662.4 452.7 L662.4 454.5 Q662.4 456.5 663.8 456.5 M670.1 445.5 Q671.5 445.5 671.5 447.5 L671.5 449.3 Q671.5 451 672.9 451 Q671.5 451 671.5 452.7 L671.5 454.5 Q671.5 456.5 670.1 456.5" fill="none" stroke="#03222d" stroke-width="1.6" stroke-linecap="round" stroke-linejoin="round"/>
<text x="666.5" y="521" text-anchor="middle" font-family="Liberation Sans" font-size="14.5" fill="#04242f" stroke="#04242f" stroke-width="0.3" textLength="61.5" lengthAdjust="spacingAndGlyphs">Database</text>
<g transform="translate(365.3 51.8) rotate(45)"><line x1="-59" y1="0" x2="-45" y2="0" stroke="#03222d" stroke-width="2.5"/><path d="M-21 -17.8 L-27 -17.8 A17.8 17.8 0 0 0 -27 17.8 L-21 17.8" fill="none" stroke="#03222d" stroke-width="2.5"/><line x1="59" y1="0" x2="45" y2="0" stroke="#03222d" stroke-width="2.5"/><path d="M21 -17.8 L28.2 -17.8 A17.8 17.8 0 0 1 28.2 17.8 L21 17.8" fill="none" stroke="#03222d" stroke-width="2.5"/><line x1="-15" y1="-9" x2="-2" y2="-9" stroke="#03222d" stroke-width="2.5"/><line x1="-15" y1="9" x2="-2" y2="9" stroke="#03222d" stroke-width="2.5"/><rect x="-22" y="-18.8" width="8" height="37.6" rx="1.6" fill="#00eb67" stroke="#03222d" stroke-width="2"/><rect x="14.6" y="-18.8" width="8" height="37.6" rx="1.6" fill="#00eb67" stroke="#03222d" stroke-width="2"/></g>
<text x="365.75" y="122.8" text-anchor="middle" font-family="Liberation Sans" font-size="14.5" fill="#04242f" stroke="#04242f" stroke-width="0.3" textLength="84" lengthAdjust="spacingAndGlyphs">API Gateway</text>
</svg></body></html>
